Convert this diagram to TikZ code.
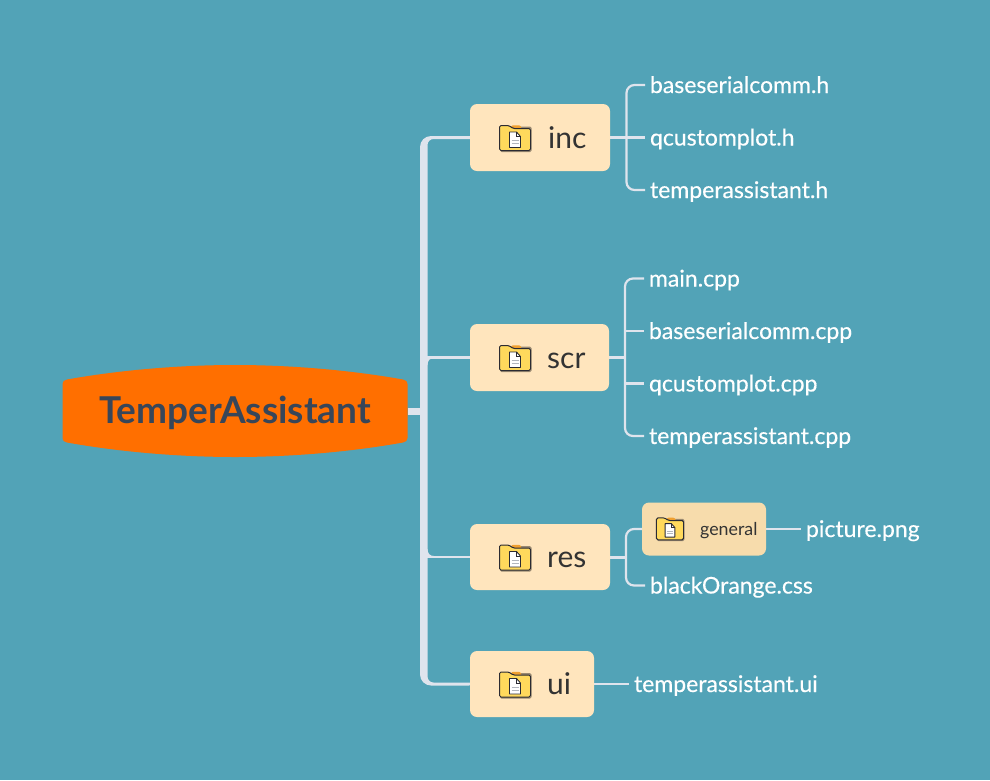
\documentclass[tikz,border=0pt]{standalone}
\usepackage{fontspec}
\setmainfont{Lato}
\newfontfamily\leaffont[FakeBold=0.35]{Lato}
\usetikzlibrary{calc}
\pgfdeclarelayer{bgl}
\pgfdeclarelayer{conn}
\pgfsetlayers{bgl,conn,main}
\definecolor{bgc}{HTML}{52A3B7}
\definecolor{boxc}{HTML}{FFE5BD}
\definecolor{genc}{HTML}{F7DCAC}
\definecolor{linec}{HTML}{DFE4ED}
\definecolor{darkt}{HTML}{333333}
\definecolor{roott}{HTML}{374659}
\definecolor{rootc}{HTML}{FF6F00}
\definecolor{foldy}{HTML}{FFD95C}
\definecolor{folde}{HTML}{2B2B33}
\definecolor{tabc}{HTML}{F0A030}
\tikzset{
  boxnode/.style={fill=boxc,rounded corners=7pt,inner sep=0pt},
  gennode/.style={fill=genc,rounded corners=7pt,inner sep=0pt},
  boxtext/.style={anchor=base west,inner sep=0pt,text=darkt,font=\fontsize{30}{33}\selectfont},
  gentext/.style={anchor=base west,inner sep=0pt,text=darkt,font=\fontsize{17.8}{20}\selectfont},
  roottext/.style={anchor=base,inner sep=0pt,text=roott,font=\bfseries\fontsize{37}{40}\selectfont},
  leaf/.style={anchor=west,inner ysep=0pt,inner xsep=0pt,outer xsep=5pt,text=white,text height=20pt,text depth=4pt,font=\leaffont\fontsize{23}{25}\selectfont},
  branch/.style={draw=linec,line width=2.6pt},
  sub/.style={draw=linec,line width=2.2pt},
  stub/.style={draw=linec,line width=3pt},
  pics/foldericon/.style={code={
    \fill[black!40!boxc,rounded corners=1.5pt] (1,2) rectangle (32.5,27.5);
    \fill[tabc,rounded corners=1pt] (11,4) -- (13,0.8) -- (21,0.8) -- (23,4) -- cycle;
    \draw[folde,fill=foldy,line width=1pt,rounded corners=1.5pt] (0.5,1) -- (10,1) -- (14,4) -- (31.5,4) -- (31.5,26) -- (0.5,26) -- cycle;
    \draw[folde,fill=white,line width=.9pt,line join=round] (10.5,7.5) -- (17.5,7.5) -- (21.5,12) -- (21.5,23) -- (10.5,23) -- cycle;
    \draw[folde,line width=.5pt] (17.5,7.5) -- (17.5,12) -- (21.5,12);
    \draw[linec!80!black,line width=.8pt] (12.5,16) -- (19.5,16) (12.5,19) -- (19.5,19);
  }},
}
\begin{document}
\begin{tikzpicture}[x=1pt,y=-1pt]
\begin{pgfonlayer}{bgl}
\fill[bgc] (0,0) rectangle (990,780);
\end{pgfonlayer}
\useasboundingbox (0,0) rectangle (990,780);

% root
\node[inner sep=0pt,minimum width=345pt,minimum height=92pt] (root) at (235,411) {};
\fill[rootc] (62.5,384) .. controls (62.5,381.5) and (64,380) .. (67,379.5)
  .. controls (120,370) and (180,365) .. (235,365)
  .. controls (290,365) and (350,370) .. (403,379.5)
  .. controls (406,380) and (407.5,381.5) .. (407.5,384) -- (407.5,438)
  .. controls (407.5,440.5) and (406,442) .. (403,442.5)
  .. controls (350,452) and (290,457) .. (235,457)
  .. controls (180,457) and (120,452) .. (67,442.5)
  .. controls (64,442) and (62.5,440.5) .. (62.5,438) -- cycle;
\node[roottext] (roott) at (235,423) {TemperAssistant};

% boxes
\node[boxnode,minimum width=140pt,minimum height=67pt] (inc) at (540,137.5) {};
\node[boxnode,minimum width=139pt,minimum height=67pt] (scr) at (539.5,357.5) {};
\node[boxnode,minimum width=140pt,minimum height=66pt] (res) at (540,557) {};
\node[boxnode,minimum width=124pt,minimum height=66pt] (ui) at (532,684) {};
\node[gennode,minimum width=124pt,minimum height=53pt] (general) at (704,529) {};

% icons
\pic at (499,124.5) {foldericon};
\pic at (499,344.5) {foldericon};
\pic at (499,544) {foldericon};
\pic at (499,671) {foldericon};
\pic[scale=.875] at (656,517) {foldericon};

% box labels
\node[boxtext] (inct) at (548,148) {inc};
\node[boxtext] (scrt) at (547,368) {scr};
\node[boxtext] (rest) at (547,567) {res};
\node[boxtext] (uit) at (547,694) {ui};
\node[gentext] (gent) at (700,535) {general};

% leaves
\node[leaf] (a1) at (645,85) {baseserialcomm.h};
\node[leaf] (a2) at (645,137.5) {qcustomplot.h};
\node[leaf] (a3) at (645,190) {temperassistant.h};
\node[leaf] (b1) at (644,278.5) {main.cpp};
\node[leaf] (b2) at (644,331) {baseserialcomm.cpp};
\node[leaf] (b3) at (644,383.5) {qcustomplot.cpp};
\node[leaf] (b4) at (644,436) {temperassistant.cpp};
\node[leaf] (c1) at (801,529) {picture.png};
\node[leaf] (c2) at (645,585.5) {blackOrange.css};
\node[leaf] (d1) at (629,684) {temperassistant.ui};

\begin{pgfonlayer}{conn}
% main spine
\coordinate (sp) at (424,411);
\coordinate (spo) at (420,411);
\coordinate (spi) at (427.5,411);
\fill[linec,rounded corners=11pt] ([yshift=1.5pt,xshift=10pt]inc.west) -| (spo) |- ([yshift=-1.5pt,xshift=10pt]ui.west) -- ([yshift=1.5pt,xshift=10pt]ui.west)
  [rounded corners=6pt] -| (spi) |- ([yshift=-1.5pt,xshift=10pt]inc.west) -- cycle;
\draw[linec,line width=7pt] (root.east) -- (sp);
\draw[branch] (scr.west) -- (sp |- scr.west);
\draw[branch] (res.west) -- (sp |- res.west);
\fill[linec] (427,358) -- (434,358) .. controls (430,358) and (427.5,360.5) .. (427.5,365) -- (427,365) -- cycle;
\fill[linec] (427,556) -- (434,556) .. controls (430,556) and (427.5,553.5) .. (427.5,549) -- (427,549) -- cycle;

% sub branches
\coordinate (ja) at (626.5,137.5);
\coordinate (jb) at (625,357.5);
\coordinate (jc) at (626,557);
\draw[stub] (inc.east) -- (ja);
\draw[sub] (ja) -- (a2.west);
\draw[sub,rounded corners=8pt] (a1.west) -| (ja) |- (a3.west);
\draw[stub] (scr.east) -- (jb);
\draw[sub,rounded corners=8pt] (b1.west) -| (jb) |- (b4.west);
\draw[sub] (jb |- b2.west) -- (b2.west);
\draw[sub] (jb |- b3.west) -- (b3.west);
\draw[stub] (res.east) -- (jc);
\draw[sub,rounded corners=8pt] (general.west) -| (jc) |- (c2.west);
\draw[sub] (general.east) -- (c1.west);
\draw[sub] (ui.east) -- (d1.west);
\end{pgfonlayer}
\end{tikzpicture}
\end{document}
